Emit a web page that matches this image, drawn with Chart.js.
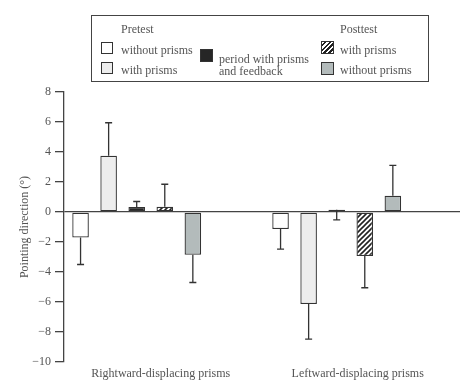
<!DOCTYPE html>
<html>
<head>
<meta charset="utf-8">
<script src="https://cdn.jsdelivr.net/npm/chart.js@4"></script>
<style>
  body { margin: 0; background: #fff; }
  #wrap { position: relative; width: 474px; height: 384px; font: 12px "Liberation Serif", serif; color: #555; }
  #legend { position: absolute; left: 91px; top: 15px; width: 338px; height: 67px; border: 1.5px solid #444; box-sizing: border-box; }
  .t { position: absolute; line-height: 14px; white-space: nowrap; }
  .sw { position: absolute; box-sizing: border-box; border: 1.5px solid #333; }
  .hatch { background: repeating-linear-gradient(135deg, #fff 0 1.6px, #222 1.6px 3.4px); }
</style>
</head>
<body>
<div id="wrap">
  <canvas id="chart" width="474" height="384"></canvas>
  <div id="legend"></div>
  <div class="t" style="left:121px;top:22px">Pretest</div>
  <div class="sw" style="left:101px;top:42px;width:12px;height:12px;background:#fff"></div>
  <div class="t" style="left:121px;top:43px">without prisms</div>
  <div class="sw" style="left:101px;top:62px;width:12px;height:12px;background:#ededed"></div>
  <div class="t" style="left:121px;top:63px">with prisms</div>
  <div class="sw" style="left:200px;top:49px;width:13px;height:13px;background:#262626"></div>
  <div class="t" style="left:219px;top:52px">period with prisms</div>
  <div class="t" style="left:219px;top:64px">and feedback</div>
  <div class="t" style="left:340px;top:22px">Posttest</div>
  <div class="sw hatch" style="left:321px;top:41px;width:13px;height:13px"></div>
  <div class="t" style="left:340px;top:43px">with prisms</div>
  <div class="sw" style="left:321px;top:62px;width:13px;height:13px;background:#b3bbbb"></div>
  <div class="t" style="left:340px;top:63px">without prisms</div>
</div>
<script>
// groups along the x axis
const groupLabels = ['Rightward-displacing prisms', 'Leftward-displacing prisms'];
const groupX = [0, 1];
const labelX = [0.12, 1.105];

// mean pointing direction (deg) per condition, one value per group
const preWithout = [-1.7, -1.13];
const preWith = [3.75, -6.13];
const feedback = [0.33, 0.15];
const postWith = [0.35, -2.93];
const postWithout = [-2.85, 1.09];

// one-sided error bars (signed extent from the bar end)
const preWithoutErr = [-1.8, -1.34];
const preWithErr = [2.2, -2.34];
const feedbackErr = [0.37, -0.68];
const postWithErr = [1.5, -2.12];
const postWithoutErr = [-1.85, 2.02];

const yTicks = [-10, -8, -6, -4, -2, 0, 2, 4, 6, 8];

function hatchPattern() {
  const c = document.createElement('canvas');
  c.width = 5; c.height = 5;
  const g = c.getContext('2d');
  g.fillStyle = '#fff';
  g.fillRect(0, 0, 5, 5);
  g.strokeStyle = '#222';
  g.lineWidth = 1.6;
  g.beginPath();
  g.moveTo(0, 5); g.lineTo(5, 0);
  g.moveTo(-1, 1); g.lineTo(1, -1);
  g.moveTo(4, 6); g.lineTo(6, 4);
  g.stroke();
  return g.createPattern(c, 'repeat');
}

const series = (label, vals, errs, color) => ({
  label,
  data: vals.map((v, i) => ({ x: groupX[i], y: v })),
  errors: errs,
  backgroundColor: color,
  borderColor: '#333',
  borderWidth: 1.3,
  borderSkipped: false,
  categoryPercentage: 0.7125,
  barPercentage: 0.59
});

const errorBars = {
  id: 'errorBars',
  afterDatasetsDraw(chart) {
    const { ctx, scales: { y } } = chart;
    ctx.save();
    ctx.strokeStyle = '#333';
    ctx.lineWidth = 1.3;
    chart.data.datasets.forEach((ds, i) => {
      chart.getDatasetMeta(i).data.forEach((bar, j) => {
        const v = ds.data[j].y;
        const y0 = y.getPixelForValue(v);
        const y1 = y.getPixelForValue(v + ds.errors[j]);
        ctx.beginPath();
        ctx.moveTo(bar.x, y0); ctx.lineTo(bar.x, y1);
        ctx.moveTo(bar.x - 3.5, y1); ctx.lineTo(bar.x + 3.5, y1);
        ctx.stroke();
      });
    });
    ctx.restore();
  }
};

Chart.defaults.font.family = '"Liberation Serif", serif';
Chart.defaults.font.size = 12;
Chart.defaults.color = '#555';

new Chart(document.getElementById('chart').getContext('2d'), {
  type: 'bar',
  data: {
    datasets: [
      series('Pretest without prisms', preWithout, preWithoutErr, '#ffffff'),
      series('Pretest with prisms', preWith, preWithErr, '#ededed'),
      series('period with prisms and feedback', feedback, feedbackErr, '#262626'),
      series('Posttest with prisms', postWith, postWithErr, hatchPattern()),
      series('Posttest without prisms', postWithout, postWithoutErr, '#b3bbbb')
    ]
  },
  options: {
    responsive: false,
    animation: false,
    layout: { padding: { top: 92, right: 14, bottom: 0, left: 0 } },
    plugins: { legend: { display: false }, tooltip: { enabled: false } },
    scales: {
      x: {
        type: 'linear',
        offset: false,
        min: -0.3635,
        max: 1.6165,
        grid: { display: false, drawTicks: false, offset: false },
        border: { display: false },
        afterBuildTicks: (axis) => { axis.ticks = labelX.map(value => ({ value })); },
        afterFit: (axis) => { axis.height = 22; },
        ticks: { autoSkip: false, maxRotation: 0, padding: 5, color: '#555', callback: (v, i) => groupLabels[i] }
      },
      y: {
        min: -10,
        max: 8,
        afterBuildTicks: (axis) => { axis.ticks = yTicks.map(value => ({ value })); },
        afterFit: (axis) => { axis.width = 64; },
        border: { display: true, color: '#444', width: 1.3 },
        grid: {
          drawOnChartArea: true,
          color: (ctx) => (ctx.tick && ctx.tick.value === 0 ? '#444' : 'rgba(0,0,0,0)'),
          lineWidth: 1.3,
          tickColor: '#444',
          tickLength: 9
        },
        ticks: { padding: 4, color: '#555', callback: (v) => (v < 0 ? '\u2212' + Math.abs(v) : String(v)) },
        title: { display: true, text: 'Pointing direction (°)', color: '#555', padding: { top: 18, bottom: 0 } }
      }
    }
  },
  plugins: [errorBars]
});
</script>
</body>
</html>
